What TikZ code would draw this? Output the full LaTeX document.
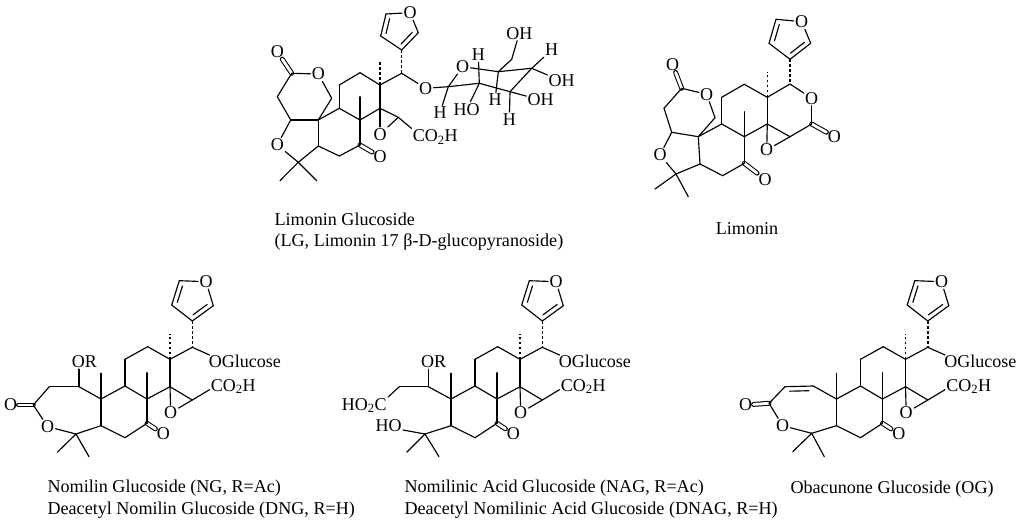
\documentclass[tikz,border=0pt]{standalone}
\usepackage{fontspec}
\setmainfont{Liberation Serif}
\usetikzlibrary{calc}

\newcommand{\innerbond}[2]{\draw ($(#1)!.16!(#2)!4.6pt!90:(#2)$) -- ($(#2)!.16!(#1)!4.6pt!-90:(#1)$);}

% furan, B and C rings, epoxide, acid and sugar of the lower row
\newcommand{\lowercore}{
    \node[atom] (fo) at (206,281.7) {O};
    \coordinate (f2) at (179.3,280.7);
    \coordinate (f3) at (171.7,305);
    \coordinate (f4) at (192.3,321);
    \coordinate (f5) at (213.3,305.7);
    \coordinate (ch) at (192.3,347.3);
    \coordinate (a) at (170,359.3);
    \coordinate (me1) at (170,334);
    \coordinate (b) at (147.7,346.7);
    \coordinate (c) at (125,359.3);
    \coordinate (d) at (125,386);
    \coordinate (e) at (147,399);
    \coordinate (me2) at (147,372.7);
    \coordinate (f) at (170,386.7);
    \coordinate (g) at (192.3,400);
    \node[atom] (eo) at (170.7,412.7) {O};
    \coordinate (h) at (147,423.3);
    \node[atom] (ko) at (163.3,434) {O};
    \coordinate (i) at (125,437.7);
    \coordinate (j) at (101,425.7);
    \coordinate (k) at (101,399);
    \coordinate (me3) at (101,373.3);
    \node[atom,anchor=west] (acid) at (209.5,386.7) {CO\textsubscript{2}H};
    \node[atom,anchor=west] (glu) at (207.5,361.7) {OGlucose};
    \path (h) edge[dbond] (ko);
    \path
        (fo) edge (f2)
        (f2) edge (f3)
        (f3) edge (f4)
        (f4) edge (f5)
        (f5) edge (fo)
        (f4) edge[hashed] (ch)
        (ch) edge (a)
        (ch) edge ([xshift=2pt,yshift=-1pt]glu.north west)
        (a) edge[hashed] (me1)
        (a) edge (b)
        (b) edge (c)
        (c) edge (d)
        (d) edge (e)
        (e) edge (f)
        (f) edge (a)
        (d) edge (k)
        (e) edge (me2)
        (e) edge (h)
        (h) edge (i)
        (i) edge (j)
        (j) edge (k)
        (k) edge (me3)
        (f) edge (g)
        (f) edge (eo)
        (g) edge (eo)
        (g) edge ([yshift=-3pt]acid.west)
    ;
    \innerbond{f2}{f3}
    \innerbond{f4}{f5}
}

\begin{document}
\begin{tikzpicture}[x=1pt,y=-1pt,line width=1.15pt,line cap=round,line join=round,
    atom/.style={inner sep=0.8pt,font=\fontsize{18}{20}\selectfont},
    caption/.style={inner sep=0pt,anchor=west,font=\fontsize{18.1}{20}\selectfont},
    dbond/.style={double,double distance=2.8pt,line width=1.05pt},
    hashed/.style={dash pattern=on 2.6pt off 2.4pt,line cap=butt,line width=1.4pt}]
    \useasboundingbox (0,0) rectangle (1024,521);

    % Limonin Glucoside
    \begin{scope}[name prefix=lg-]
        \node[atom] (fo) at (410,12.7) {O};
        \coordinate (f2) at (386,14);
        \coordinate (f3) at (380.7,36);
        \coordinate (f4) at (401.7,50);
        \coordinate (f5) at (418.3,32.7);
        \coordinate (ch) at (401.7,73.3);
        \coordinate (a) at (380,85);
        \coordinate (me1) at (380,61.7);
        \coordinate (b) at (360,72.7);
        \coordinate (c) at (339.3,85);
        \coordinate (d) at (339.3,108.3);
        \coordinate (e) at (360,120);
        \coordinate (me2) at (360,96.7);
        \coordinate (f) at (380,108.3);
        \coordinate (g) at (398.3,117.3);
        \node[atom] (eo) at (380,134.3) {O};
        \node[atom,anchor=west] (acid) at (411.5,137) {CO\textsubscript{2}H};
        \coordinate (h) at (360,145);
        \node[atom] (ko) at (380,156.7) {O};
        \coordinate (i) at (339.3,156);
        \coordinate (j) at (318.3,146);
        \coordinate (k) at (318.3,120);
        \coordinate (l) at (331.7,98.3);
        \node[atom] (lo) at (318.3,74) {O};
        \coordinate (m) at (291.7,73.3);
        \node[atom] (mo) at (277.3,51.7) {O};
        \coordinate (n) at (277.3,96.7);
        \coordinate (p) at (290.7,120);
        \node[atom] (ro) at (277.3,145) {O};
        \coordinate (q) at (298.3,162.3);
        \coordinate (q1) at (280,180.7);
        \coordinate (q2) at (316.7,180.7);
        % sugar
        \node[atom] (go) at (425.7,88.3) {O};
        \coordinate (s1) at (448.3,86.7);
        \node[atom] (so) at (462.7,66.7) {O};
        \coordinate (s2) at (479.3,83.3);
        \coordinate (s3) at (510,91.7);
        \coordinate (s4) at (531.7,68.3);
        \coordinate (s5) at (498.3,71.7);
        \coordinate (s6) at (511.7,59.3);
        \node[atom] (h1) at (440,112.7) {H};
        \node[atom] (h2) at (478.3,55) {H};
        \node[atom] (h3) at (495,100) {H};
        \node[atom] (h4) at (509.3,119.3) {H};
        \node[atom] (h5) at (551.7,50) {H};
        \node[atom] (ho2) at (466.7,109.3) {HO};
        \node[atom] (oh3) at (540.7,100) {OH};
        \node[atom] (oh4) at (561.7,81) {OH};
        \node[atom] (oh6) at (519.3,33.3) {OH};
        \path (h) edge[dbond] (ko) (m) edge[dbond] (mo);
        \path
            (fo) edge (f2)
            (f2) edge (f3)
            (f3) edge (f4)
            (f4) edge (f5)
            (f5) edge (fo)
            (f4) edge[hashed] (ch)
            (ch) edge (a)
            (ch) edge (go)
            (a) edge[hashed] (me1)
            (a) edge (b)
            (b) edge (c)
            (c) edge (d)
            (d) edge (e)
            (e) edge (f)
            (f) edge (a)
            (e) edge (me2)
            (f) edge (g)
            (f) edge (eo)
            (g) edge (eo)
            (g) edge (acid.north west)
            (e) edge (h)
            (h) edge (i)
            (i) edge (j)
            (j) edge (k)
            (k) edge (d)
            (k) edge (l)
            (l) edge (lo)
            (lo) edge (m)
            (m) edge (n)
            (n) edge (p)
            (p) edge (k)
            (p) edge (ro)
            (ro) edge (q)
            (q) edge (j)
            (q) edge (q1)
            (q) edge (q2)
            (go) edge (s1)
            (s1) edge (so)
            (s1) edge (s2)
            (s2) edge (s3)
            (s3) edge (s4)
            (s4) edge (s5)
            (so) edge (s5)
            (s5) edge (s6)
            (s6) edge (oh6)
            (s1) edge (h1)
            (s2) edge (h2)
            (s2) edge (ho2)
            (s5) edge (h3)
            (s3) edge (h4)
            (s3) edge (oh3)
            (s4) edge (oh4)
            (s4) edge (h5)
        ;
        \innerbond{f2}{f3}
        \innerbond{f4}{f5}
    \end{scope}
    \node[caption] (lgname) at (274,219) {Limonin Glucoside};
    \node[caption] (lgfull) at (274,242) {(LG, Limonin 17 β-D-glucopyranoside)};

    % Limonin
    \begin{scope}[name prefix=lm-]
        \node[atom] (fo) at (801.7,21.7) {O};
        \coordinate (f2) at (776,19.3);
        \coordinate (f3) at (769,43.3);
        \coordinate (f4) at (790,59.3);
        \coordinate (f5) at (810.7,43.3);
        \coordinate (ch) at (790,84);
        \node[atom] (ao) at (811.7,98.3) {O};
        \coordinate (co) at (811.7,124);
        \node[atom] (co2) at (834.3,136.7) {O};
        \coordinate (g) at (790,136.7);
        \coordinate (f) at (767.3,124);
        \coordinate (a) at (767.3,97.3);
        \coordinate (me1) at (767.3,71.7);
        \coordinate (b) at (744.3,84.3);
        \coordinate (c) at (721.7,97.3);
        \coordinate (d) at (721.7,124);
        \coordinate (e) at (744.3,136.7);
        \coordinate (me2) at (744.3,111.7);
        \node[atom] (eo) at (766.7,150) {O};
        \coordinate (h) at (744.3,163.3);
        \node[atom] (ko) at (765,179.3) {O};
        \coordinate (i) at (722.7,175.7);
        \coordinate (j) at (700,164);
        \coordinate (k) at (698.3,136.7);
        \coordinate (l) at (715,117.7);
        \node[atom] (lo) at (706.7,94.3) {O};
        \coordinate (m) at (681.7,88.3);
        \node[atom] (mo) at (672.7,65) {O};
        \coordinate (n) at (664,108.3);
        \coordinate (p) at (671.7,132.3);
        \node[atom] (ro) at (660,155) {O};
        \coordinate (q) at (676,174);
        \coordinate (q1) at (655,189);
        \coordinate (q2) at (688.3,196.7);
        \path (h) edge[dbond] (ko) (m) edge[dbond] (mo) (co) edge[dbond] (co2);
        \path
            (fo) edge (f2)
            (f2) edge (f3)
            (f3) edge (f4)
            (f4) edge (f5)
            (f5) edge (fo)
            (f4) edge[hashed] (ch)
            (ch) edge (a)
            (ch) edge (ao)
            (ao) edge (co)
            (co) edge (g)
            (g) edge (f)
            (f) edge (a)
            (a) edge[hashed] (me1)
            (a) edge (b)
            (b) edge (c)
            (c) edge (d)
            (d) edge (e)
            (e) edge (f)
            (e) edge (me2)
            (f) edge (eo)
            (g) edge (eo)
            (e) edge (h)
            (h) edge (i)
            (i) edge (j)
            (j) edge (k)
            (k) edge (d)
            (k) edge (l)
            (l) edge (lo)
            (lo) edge (m)
            (m) edge (n)
            (n) edge (p)
            (p) edge (k)
            (p) edge (ro)
            (ro) edge (q)
            (q) edge (j)
            (q) edge (q1)
            (q) edge (q2)
        ;
        \innerbond{f2}{f3}
        \innerbond{f4}{f5}
    \end{scope}
    \node[caption,anchor=center] (lmname) at (747,229) {Limonin};

    % Nomilin Glucoside
    \begin{scope}[name prefix=ng-]
        \lowercore
        \coordinate (cr) at (79,386.7);
        \node[atom] (or) at (84.3,361.7) {OR};
        \coordinate (n) at (49.3,386.7);
        \coordinate (m) at (33.3,405);
        \node[atom] (mo) at (10.7,405) {O};
        \node[atom] (ro) at (47.7,426.7) {O};
        \coordinate (q) at (76,434);
        \coordinate (q1) at (57.3,452.3);
        \coordinate (q2) at (89,456.7);
        \path (m) edge[dbond] (mo);
        \path
            (k) edge (cr)
            (cr) edge ([xshift=-5.3pt]or.south)
            (cr) edge (n)
            (n) edge (m)
            (m) edge (ro)
            (ro) edge (q)
            (q) edge (j)
            (q) edge (q1)
            (q) edge (q2)
        ;
    \end{scope}
    \node[caption] (ngname) at (47,488.5) {Nomilin Glucoside (NG, R=Ac)};
    \node[caption] (dngname) at (47,510) {Deacetyl Nomilin Glucoside (DNG, R=H)};

    % Nomilinic Acid Glucoside
    \begin{scope}[xshift=350pt,name prefix=nag-]
        \lowercore
        \coordinate (cr) at (78.3,386.7);
        \node[atom] (or) at (83.6,361.7) {OR};
        \coordinate (n) at (49.3,386.7);
        \node[atom,anchor=east] (acid2) at (38,405.7) {HO\textsubscript{2}C};
        \coordinate (q) at (75,434);
        \node[atom,anchor=east] (hyd) at (53,426) {HO};
        \coordinate (q1) at (56.7,452.3);
        \coordinate (q2) at (89,456.7);
        \path
            (k) edge (cr)
            (cr) edge ([xshift=-5.3pt]or.south)
            (cr) edge (n)
            (n) edge (acid2.north east)
            (q) edge ([yshift=-4pt]hyd.east)
            (q) edge (j)
            (q) edge (q1)
            (q) edge (q2)
        ;
    \end{scope}
    \node[caption] (nagname) at (404,488.5) {Nomilinic Acid Glucoside (NAG, R=Ac)};
    \node[caption] (dnagname) at (404,510) {Deacetyl Nomilinic Acid Glucoside (DNAG, R=H)};

    % Obacunone Glucoside
    \begin{scope}[xshift=735.5pt,name prefix=og-]
        \lowercore
        \coordinate (c1) at (77.8,386);
        \coordinate (c2) at (49.5,386.7);
        \coordinate (m) at (33.5,403.3);
        \node[atom] (mo) at (10.2,405) {O};
        \node[atom] (ro) at (47.2,425.7) {O};
        \coordinate (q) at (76.2,433.3);
        \coordinate (q1) at (57.2,451.7);
        \coordinate (q2) at (88.8,456.7);
        \path (m) edge[dbond] (mo);
        \path
            (k) edge (c1)
            (c1) edge (c2)
            (c2) edge (m)
            (m) edge (ro)
            (ro) edge (q)
            (q) edge (j)
            (q) edge (q1)
            (q) edge (q2)
        ;
        \innerbond{c1}{c2}
    \end{scope}
    \node[caption] (ogname) at (790,489.5) {Obacunone Glucoside (OG)};
\end{tikzpicture}
\end{document}
